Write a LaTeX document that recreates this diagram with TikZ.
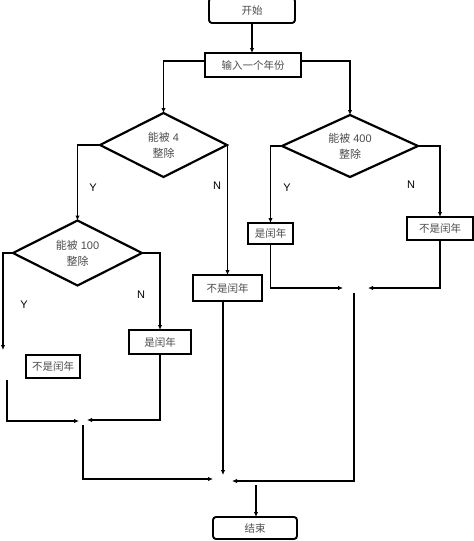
\documentclass[tikz,border=0pt]{standalone}
\usepackage{fontspec}
\setmainfont{Liberation Sans}
\newfontfamily\cjk{Noto Sans CJK SC}
\usetikzlibrary{shapes.geometric,arrows.meta}
\begin{document}
\begin{tikzpicture}[x=1pt,y=-1pt,
 box/.style={draw,line width=1.9pt,inner sep=0pt,outer sep=0pt,font=\cjk\fontsize{10.5}{12}\selectfont,text=black!70},
 rbox/.style={box,rounded corners=3pt},
 dia/.style={diamond,draw,line width=2.2pt,aspect=2,inner sep=0pt,outer sep=0pt,align=center,font=\fontsize{11}{16}\selectfont,text=black!70},
 conn/.style={line width=1.3pt},
 arr/.style={conn,-{Latex[length=5pt,width=4.5pt]}},
 yn/.style={font=\fontsize{11}{13}\selectfont}]
\useasboundingbox (0,0) rectangle (474,541);
\fill[white] (0,0) rectangle (474,541);

\node[rbox,minimum width=86pt,minimum height=25pt] (start) at (252,10.5) {开始};
\node[box,minimum width=96pt,minimum height=24pt] (input) at (253,65) {输入一个年份};
\node[dia,minimum width=127pt,minimum height=64pt] (d1) at (163.5,145) {{\cjk 能被} 4\\{\cjk 整除}};
\node[dia,minimum width=129pt,minimum height=65pt] (d2) at (77.5,253) {{\cjk 能被} 100\\{\cjk 整除}};
\node[dia,minimum width=136pt,minimum height=62pt] (d3) at (350,146) {{\cjk 能被} 400\\{\cjk 整除}};
\node[box,minimum width=62pt,minimum height=24pt] (lyes) at (160,342) {是闰年};
\node[box,minimum width=54pt,minimum height=23pt] (lno) at (53,366.5) {不是闰年};
\node[box,minimum width=69pt,minimum height=26pt] (mno) at (227.5,288) {不是闰年};
\node[box,minimum width=45pt,minimum height=21pt] (ryes) at (270.5,233.5) {是闰年};
\node[box,minimum width=66pt,minimum height=23pt] (rno) at (440,228.5) {不是闰年};
\node[rbox,minimum width=84pt,minimum height=22pt] (end) at (255,528) {结束};

\node[yn] (y1) at (93,188) {Y};
\node[yn] (n1) at (217,186) {N};
\node[yn] (y2) at (24,305) {Y};
\node[yn] (n2) at (141,295) {N};
\node[yn] (y3) at (287,188) {Y};
\node[yn] (n3) at (411,185) {N};

\coordinate (yend) at (3,350);
\coordinate (ls) at (7,380);
\coordinate (lj1) at (79,421);
\coordinate (lj2) at (87,420);
\coordinate (lv1) at (83,425);
\coordinate (bj1) at (213,479);
\coordinate (ms) at (223,301);
\coordinate (bj2) at (223,475);
\coordinate (rj1) at (343,288);
\coordinate (rj2) at (368,288);
\coordinate (rv1) at (354,293);
\coordinate (bj3) at (232,481);
\coordinate (es) at (256,485);

\draw[arr] (start.south) -- (start.south |- input.north);
\draw[arr] ([yshift=4pt]input.west) -| (d1.north);
\draw[arr] ([yshift=4pt]input.east) -| (d3.north);
\draw[arr] (d1.west) -| (d2.north);
\draw[arr] (d1.east) -| (mno.north);
\draw[arr] (d2.west) -| (yend);
\draw[arr] (d2.east) -| (lyes.north);
\draw[arr] (d3.west) -| (ryes.north);
\draw[arr] (d3.east) -| (rno.north);

\draw[arr] (ls) |- (lj1);
\draw[arr] (lyes.south) |- (lj2);
\draw[arr] (lv1) |- (bj1);
\draw[arr] (ms) -- (bj2);
\draw[arr] (ryes.south) |- (rj1);
\draw[arr] (rno.south) |- (rj2);
\draw[arr] (rv1) |- (bj3);
\draw[arr] (es) -- (es |- end.north);
\end{tikzpicture}
\end{document}
